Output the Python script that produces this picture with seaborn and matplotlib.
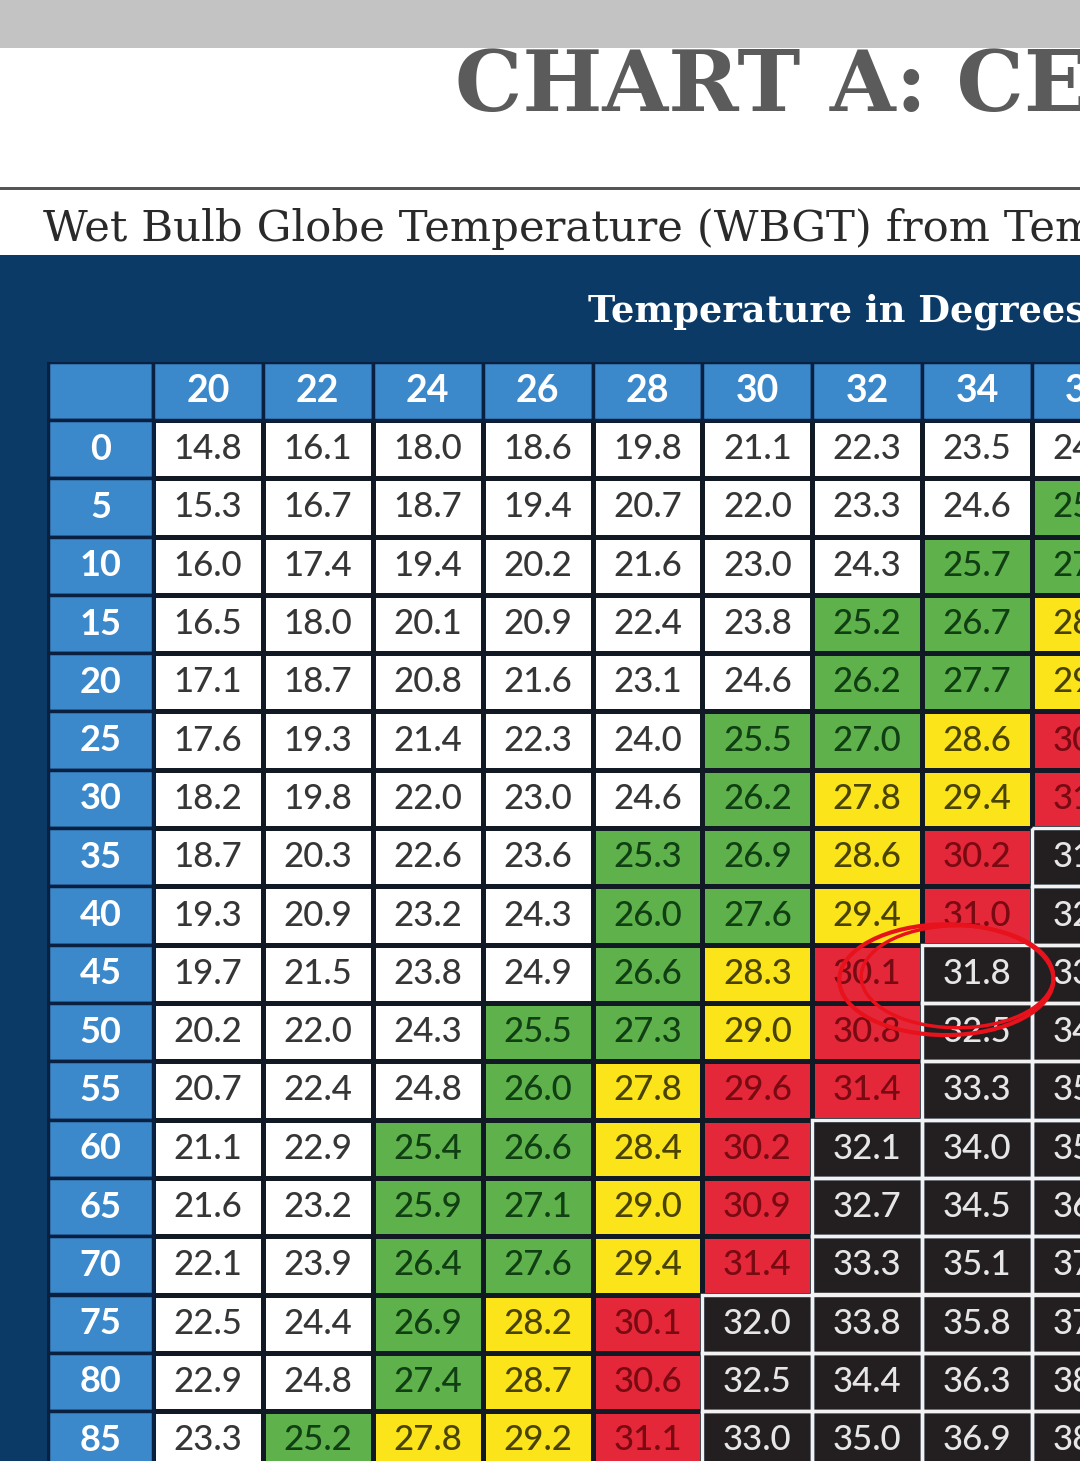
import numpy as np
import pandas as pd
import matplotlib
matplotlib.use("Agg")
import matplotlib.pyplot as plt
from matplotlib.colors import ListedColormap
from matplotlib.patches import Rectangle, Ellipse
import seaborn as sns

# Data: WBGT by air temperature (columns) and relative humidity (rows)
temps = [20, 22, 24, 26, 28, 30, 32, 34, 36]
humidity = [0, 5, 10, 15, 20, 25, 30, 35, 40, 45, 50, 55, 60, 65, 70, 75, 80, 85]

wbgt_20 = [14.8, 15.3, 16.0, 16.5, 17.1, 17.6, 18.2, 18.7, 19.3, 19.7, 20.2, 20.7, 21.1, 21.6, 22.1, 22.5, 22.9, 23.3]
wbgt_22 = [16.1, 16.7, 17.4, 18.0, 18.7, 19.3, 19.8, 20.3, 20.9, 21.5, 22.0, 22.4, 22.9, 23.2, 23.9, 24.4, 24.8, 25.2]
wbgt_24 = [18.0, 18.7, 19.4, 20.1, 20.8, 21.4, 22.0, 22.6, 23.2, 23.8, 24.3, 24.8, 25.4, 25.9, 26.4, 26.9, 27.4, 27.8]
wbgt_26 = [18.6, 19.4, 20.2, 20.9, 21.6, 22.3, 23.0, 23.6, 24.3, 24.9, 25.5, 26.0, 26.6, 27.1, 27.6, 28.2, 28.7, 29.2]
wbgt_28 = [19.8, 20.7, 21.6, 22.4, 23.1, 24.0, 24.6, 25.3, 26.0, 26.6, 27.3, 27.8, 28.4, 29.0, 29.4, 30.1, 30.6, 31.1]
wbgt_30 = [21.1, 22.0, 23.0, 23.8, 24.6, 25.5, 26.2, 26.9, 27.6, 28.3, 29.0, 29.6, 30.2, 30.9, 31.4, 32.0, 32.5, 33.0]
wbgt_32 = [22.3, 23.3, 24.3, 25.2, 26.2, 27.0, 27.8, 28.6, 29.4, 30.1, 30.8, 31.4, 32.1, 32.7, 33.3, 33.8, 34.4, 35.0]
wbgt_34 = [23.5, 24.6, 25.7, 26.7, 27.7, 28.6, 29.4, 30.2, 31.0, 31.8, 32.5, 33.3, 34.0, 34.5, 35.1, 35.8, 36.3, 36.9]
wbgt_36 = [24.7, 25.9, 27.1, 28.2, 29.2, 30.1, 31.0, 31.9, 32.7, 33.5, 34.3, 35.1, 35.9, 36.5, 37.1, 37.7, 38.3, 38.9]

# risk bands and their colours
band_edges = [25.0, 27.75, 29.5, 31.5]
band_fill = ["#ffffff", "#5fb14b", "#fbe51a", "#e4283a", "#231f20"]
band_text = ["#363636", "#0f3f12", "#4a4300", "#7a0a12", "#e6e6e6"]

df = pd.DataFrame(np.column_stack([wbgt_20, wbgt_22, wbgt_24, wbgt_26, wbgt_28,
                                   wbgt_30, wbgt_32, wbgt_34, wbgt_36]),
                  index=humidity, columns=temps)
bands = np.digitize(df.values, band_edges)

sns.set_theme(style="white")
plt.rcParams["font.family"] = ["Lato", "DejaVu Sans"]

fig = plt.figure(figsize=(10.8, 14.61), dpi=100)
fig.patch.set_facecolor("white")

# page background: grey strip, rule, navy panel (behind the table axes)
fig.patches.append(Rectangle((0, 1 - 48 / 1461), 1, 48 / 1461, transform=fig.transFigure,
                             facecolor="#c3c3c3", edgecolor="none", zorder=-5))
fig.patches.append(Rectangle((0, 1 - 190 / 1461), 1, 3 / 1461, transform=fig.transFigure,
                             facecolor="#555555", edgecolor="none", zorder=-5))
fig.patches.append(Rectangle((0, 0), 1, 1 - 255 / 1461, transform=fig.transFigure,
                             facecolor="#0c3a66", edgecolor="none", zorder=-5))

fig.text(455 / 1080, 1 - 88 / 1461, "CHART A: CELSIUS", family="DejaVu Serif", weight="bold",
         fontsize=61, color="#5b5b5b", va="center", ha="left")
fig.text(43 / 1080, 1 - 229 / 1461, "Wet Bulb Globe Temperature (WBGT) from Temperature and Relative Humidity",
         family="DejaVu Serif", fontsize=31.3, color="#2a2a2a", va="center", ha="left")
fig.text(588 / 1080, 1 - 312 / 1461, "Temperature in Degrees Celsius", family="DejaVu Serif",
         weight="bold", fontsize=26.5, color="white", va="center", ha="left")

# table axes (row-label column and header row live at negative data coords)
ax = fig.add_axes([47 / 1080, 0, 1 - 47 / 1080, 1 - 361.7 / 1461])
sns.heatmap(bands, ax=ax, cmap=ListedColormap(band_fill), vmin=-0.5, vmax=4.5,
            annot=df.values, fmt=".1f", cbar=False, linewidths=2.5, linecolor="#111a24",
            annot_kws={"fontsize": 25, "family": "Lato", "weight": "medium"})

# text colour by band
for k, t in enumerate(ax.texts):
    i, j = divmod(k, len(temps))
    t.set_color(band_text[bands[i, j]])
    t.set_zorder(5)

# white grid around the black (extreme) cells
for i in range(len(humidity)):
    for j in range(len(temps)):
        if bands[i, j] == 4:
            ax.add_patch(Rectangle((j, i), 1, 1, facecolor="none", edgecolor="#f2f2f2",
                                   lw=2.5, zorder=3))

# header row and row labels
blue = "#3b88cb"
lab_w = 0.955
ax.add_patch(Rectangle((-lab_w, -1), lab_w, 1, facecolor=blue, edgecolor="#0a2040", lw=2.5, zorder=2))
for j, tmp in enumerate(temps):
    ax.add_patch(Rectangle((j, -1), 1, 1, facecolor=blue, edgecolor="#0a2040", lw=2.5, zorder=2))
    ax.text(j + 0.5, -0.5, str(tmp), ha="center", va="center", color="white",
            fontsize=27, weight="bold", zorder=5)
for i, rh in enumerate(humidity):
    ax.add_patch(Rectangle((-lab_w, i), lab_w, 1, facecolor=blue, edgecolor="#0a2040", lw=2.5, zorder=2))
    ax.text(-lab_w / 2, i + 0.5, str(rh), ha="center", va="center", color="white",
            fontsize=26, weight="bold", zorder=5)

ax.set_xlim(-lab_w - 0.01, (1080 - 152) / 110)
ax.set_ylim((1461 - 420) / 58.3, -1.0)
ax.set_xticks([])
ax.set_yticks([])
ax.set_xlabel("")
ax.set_ylabel("")
for s in ax.spines.values():
    s.set_visible(False)

# hand-drawn red circle around the 45% row
ax.add_patch(Ellipse((7.22, 9.6), 1.95, 1.9, angle=-6, facecolor="none",
                     edgecolor="#e8121c", lw=3, zorder=6))
ax.add_patch(Ellipse((7.32, 9.55), 1.75, 1.75, angle=-8, facecolor="none",
                     edgecolor="#e8121c", lw=2.5, zorder=6))

fig.savefig("out.png", dpi=100)
